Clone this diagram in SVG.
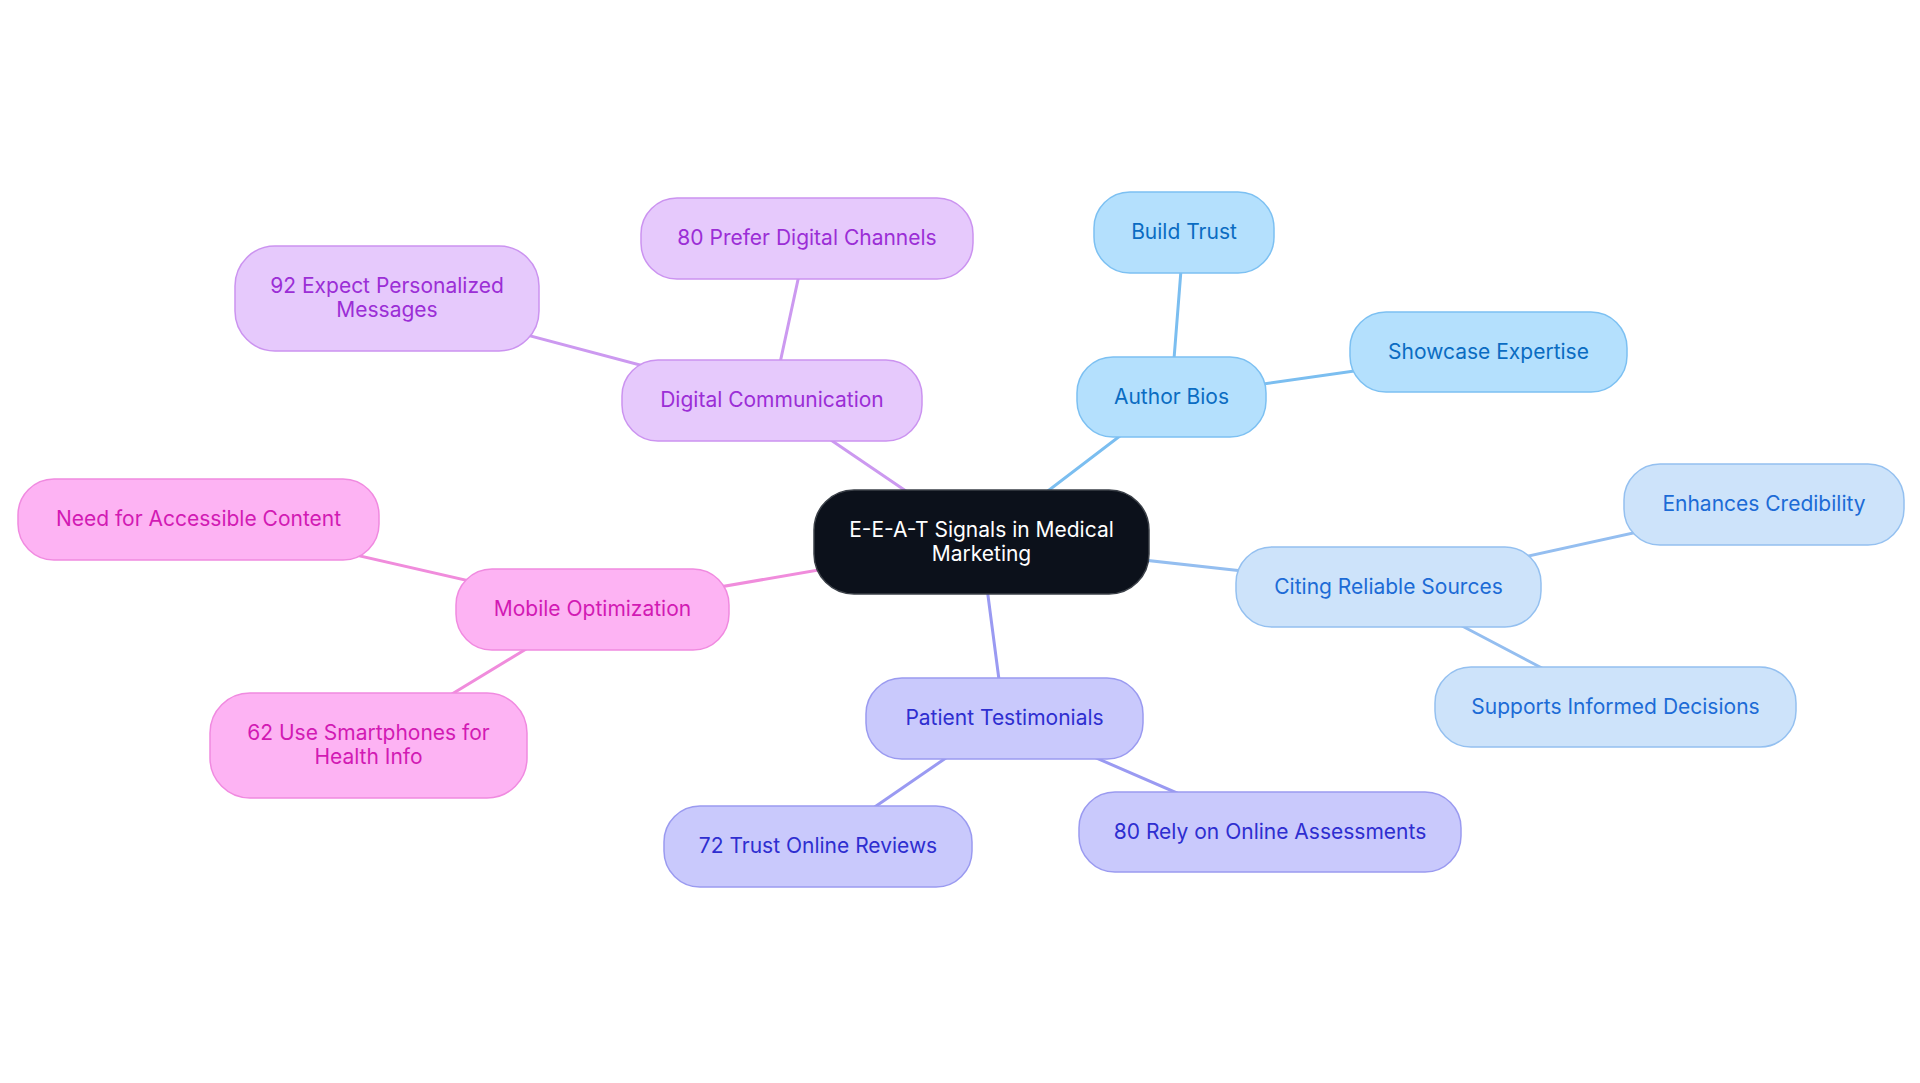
<svg xmlns="http://www.w3.org/2000/svg" width="1920" height="1083" viewBox="0 0 1920 1083">
<style>
text{font-family:Inter,"Noto Sans","Liberation Sans",sans-serif;font-size:21px;text-anchor:middle}
.e{fill:none;stroke-width:3;stroke-linecap:round}
.n rect{stroke-width:1.5}
.root rect{fill:#0c111b;stroke:#3b4048}
.root text{fill:#ffffff}
.ab rect{fill:#b4e0fd;stroke:#7cc0f2}
.ab text{fill:#0a6cc2}
.cs rect{fill:#cde3fa;stroke:#94c0f0}
.cs text{fill:#1c6bd6}
.pt rect{fill:#c9c9fc;stroke:#9a9af0}
.pt text{fill:#2e2ed0}
.dc rect{fill:#e6c9fc;stroke:#cb93f0}
.dc text{fill:#9b2ed6}
.mo rect{fill:#fdb3f3;stroke:#f08ae0}
.mo text{fill:#d21ab4}
</style>
<rect width="1920" height="1083" fill="#ffffff"/>
<g id="connectors">
<line class="e" stroke="#7bbef0" x1="981" y1="542" x2="1171" y2="397"/>
<line class="e" stroke="#7bbef0" x1="1171" y1="397" x2="1184" y2="232"/>
<line class="e" stroke="#7bbef0" x1="1171" y1="397" x2="1488" y2="352"/>
<line class="e" stroke="#94bef0" x1="981" y1="542" x2="1388" y2="587"/>
<line class="e" stroke="#94bef0" x1="1388" y1="587" x2="1765" y2="504"/>
<line class="e" stroke="#94bef0" x1="1388" y1="587" x2="1616" y2="707"/>
<line class="e" stroke="#9a9af2" x1="981" y1="542" x2="1004" y2="718"/>
<line class="e" stroke="#9a9af2" x1="1004" y1="718" x2="818" y2="846"/>
<line class="e" stroke="#9a9af2" x1="1004" y1="718" x2="1267" y2="832"/>
<line class="e" stroke="#cc99f0" x1="981" y1="542" x2="772" y2="400"/>
<line class="e" stroke="#cc99f0" x1="772" y1="400" x2="807" y2="238"/>
<line class="e" stroke="#cc99f0" x1="772" y1="400" x2="387" y2="298"/>
<line class="e" stroke="#f08cdc" x1="981" y1="542" x2="592" y2="609"/>
<line class="e" stroke="#f08cdc" x1="592" y1="609" x2="198" y2="519"/>
<line class="e" stroke="#f08cdc" x1="592" y1="609" x2="368" y2="745"/>
</g>
<g id="root" class="n root"><rect x="814" y="490" width="335" height="104" rx="40"/><text x="981.5" y="537">E-E-A-T Signals in Medical</text><text x="981.5" y="561">Marketing</text></g>
<g id="author-bios" class="n ab"><rect x="1077" y="357" width="189" height="80" rx="36"/><text x="1171.5" y="404">Author Bios</text></g>
<g id="build-trust" class="n ab"><rect x="1094" y="192" width="180" height="81" rx="36"/><text x="1184" y="239">Build Trust</text></g>
<g id="showcase-expertise" class="n ab"><rect x="1350" y="312" width="277" height="80" rx="36"/><text x="1488.5" y="359">Showcase Expertise</text></g>
<g id="citing-sources" class="n cs"><rect x="1236" y="547" width="305" height="80" rx="36"/><text x="1388.5" y="594">Citing Reliable Sources</text></g>
<g id="enhances-credibility" class="n cs"><rect x="1624" y="464" width="280" height="81" rx="36"/><text x="1764" y="511">Enhances Credibility</text></g>
<g id="supports-decisions" class="n cs"><rect x="1435" y="667" width="361" height="80" rx="36"/><text x="1615.5" y="714">Supports Informed Decisions</text></g>
<g id="patient-testimonials" class="n pt"><rect x="866" y="678" width="277" height="81" rx="36"/><text x="1004.5" y="725">Patient Testimonials</text></g>
<g id="trust-reviews" class="n pt"><rect x="664" y="806" width="308" height="81" rx="36"/><text x="818" y="853">72 Trust Online Reviews</text></g>
<g id="rely-assessments" class="n pt"><rect x="1079" y="792" width="382" height="80" rx="36"/><text x="1270" y="839">80 Rely on Online Assessments</text></g>
<g id="digital-communication" class="n dc"><rect x="622" y="360" width="300" height="81" rx="36"/><text x="772" y="407">Digital Communication</text></g>
<g id="prefer-digital" class="n dc"><rect x="641" y="198" width="332" height="81" rx="36"/><text x="807" y="245">80 Prefer Digital Channels</text></g>
<g id="expect-personalized" class="n dc"><rect x="235" y="246" width="304" height="105" rx="40"/><text x="387" y="293">92 Expect Personalized</text><text x="387" y="317">Messages</text></g>
<g id="mobile-optimization" class="n mo"><rect x="456" y="569" width="273" height="81" rx="36"/><text x="592.5" y="616">Mobile Optimization</text></g>
<g id="accessible-content" class="n mo"><rect x="18" y="479" width="361" height="81" rx="36"/><text x="198.5" y="526">Need for Accessible Content</text></g>
<g id="use-smartphones" class="n mo"><rect x="210" y="693" width="317" height="105" rx="40"/><text x="368.5" y="740">62 Use Smartphones for</text><text x="368.5" y="764">Health Info</text></g>
</svg>
